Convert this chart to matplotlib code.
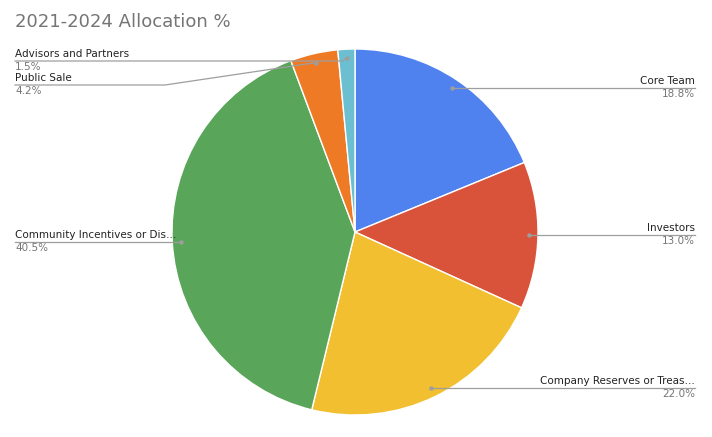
import numpy as np
import matplotlib.pyplot as plt

labels = ["Core Team", "Investors", "Company Reserves or Treas\u2026",
          "Community Incentives or Dis\u2026", "Public Sale", "Advisors and Partners"]
values = [18.8, 13.0, 22.0, 40.5, 4.2, 1.5]
colors = ["#4f81ef", "#d9533b", "#f2bf31", "#59a65a", "#ef7a26", "#6bbfd0"]

W, H = 712, 437
CX, CY, R = 355, 232, 183
# label line y (pixels from top), side, elbow x
label_y = [88, 237, 390, 243, 85, 61]
side = ["r", "r", "r", "l", "l", "l"]
elbow = [None, None, None, None, 165, 342]

fig = plt.figure(figsize=(W / 100, H / 100), dpi=100)
ax = fig.add_axes([0, 0, 1, 1])

ax.pie(values, colors=colors, startangle=90, counterclock=False,
       center=(CX, H - CY), radius=R,
       wedgeprops=dict(edgecolor="white", linewidth=1))
ax.set_xlim(0, W)
ax.set_ylim(0, H)
ax.set_aspect("equal")
ax.axis("off")

fig.text(15 / W, 1 - 22 / H, "2021-2024 Allocation %", fontsize=13,
         color="#757575", va="center")

cum = 0
for lab, v, ly, s, ex in zip(labels, values, label_y, side, elbow):
    mid = np.radians(90 - (cum + v / 2) * 3.6)
    cum += v
    dx = CX + 0.95 * R * np.cos(mid)
    dy = H - CY + 0.95 * R * np.sin(mid)
    yy = H - ly
    lx = 695 if s == "r" else 15
    if ex is None:
        xs, ys = [dx, lx], [dy, dy]
        yy = dy
    else:
        xs, ys = [dx, ex, lx], [dy, yy, yy]
    ax.plot(xs, ys, color="#9e9e9e", lw=0.9)
    ax.plot(dx, dy, "o", ms=2.2, color="#9e9e9e")
    ha = "right" if s == "r" else "left"
    ax.text(lx, yy + 2, lab, ha=ha, va="bottom", fontsize=7.5, color="#222222")
    ax.text(lx, yy - 1, f"{v:.1f}%", ha=ha, va="top", fontsize=7.5, color="#757575")

fig.savefig("out.png", dpi=100)
